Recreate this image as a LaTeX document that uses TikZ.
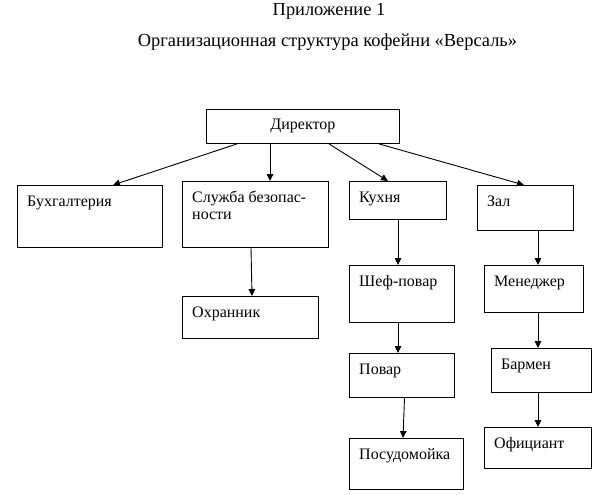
\documentclass[tikz,border=0pt]{standalone}
\usepackage{fontspec}
\setmainfont{Liberation Serif}
\usetikzlibrary{arrows.meta}
\begin{document}
\begin{tikzpicture}[x=1pt,y=-1pt,
  unit/.style={draw, line width=0.9pt, inner sep=0pt, anchor=north west,
    font=\fontsize{16}{17}\selectfont},
  caption/.style={anchor=base west, inner sep=0pt, xshift=10pt, yshift=-21pt,
    font=\fontsize{16}{17}\selectfont},
  link/.style={line width=0.9pt, -{Triangle[length=7pt,width=6.5pt]}}]

  \useasboundingbox (0,0) rectangle (597,495);

  \node[anchor=base, font=\fontsize{18.4}{21}\selectfont] (app) at (329,16) {Приложение 1};
  \node[anchor=base, font=\fontsize{18.4}{21}\selectfont] (title) at (327.5,46.5)
  {Организационная структура кофейни «Версаль»};

  \node[unit, minimum width=193pt, minimum height=34pt] (dir) at (206,109) {Директор};

  \node[unit, minimum width=145pt, minimum height=62pt,
    label={[caption]north west:Бухгалтерия}] (buh) at (17,185) {};
  \node[unit, minimum width=146pt, minimum height=66pt,
    label={[caption]north west:{\parbox[t]{130pt}{Служба безопас-\\ности}}}] (sec) at (182,181) {};
  \node[unit, minimum width=97pt, minimum height=38pt,
    label={[caption]north west:Кухня}] (kit) at (349,181) {};
  \node[unit, minimum width=96pt, minimum height=45pt,
    label={[caption]north west:Зал}] (hall) at (477,185) {};

  \node[unit, minimum width=136pt, minimum height=42pt,
    label={[caption]north west:Охранник}] (guard) at (182,296) {};

  \node[unit, minimum width=105pt, minimum height=57pt,
    label={[caption]north west:Шеф-повар}] (chef) at (349,265) {};
  \node[unit, minimum width=105pt, minimum height=44pt,
    label={[caption]north west:Повар}] (cook) at (349,353) {};
  \node[unit, minimum width=114pt, minimum height=51pt,
    label={[caption]north west:Посудомойка}] (wash) at (349,438) {};

  \node[unit, minimum width=99pt, minimum height=47pt,
    label={[caption]north west:Менеджер}] (mgr) at (484,265) {};
  \node[unit, minimum width=100pt, minimum height=44pt,
    label={[caption]north west:Бармен}] (bar) at (491,348) {};
  \node[unit, minimum width=107pt, minimum height=41pt,
    label={[caption]north west:Официант}] (wait) at (484,427) {};

  \draw[link] ([xshift=31pt]dir.south west) -- ([xshift=96pt]buh.north west); %% dir -> buh
  \draw[link] ([xshift=64pt]dir.south west) -- ([xshift=88pt]sec.north west); %% dir -> sec
  \draw[link] ([xshift=123pt]dir.south west) -- ([xshift=39pt]kit.north west); %% dir -> kit
  \draw[link] ([xshift=173pt]dir.south west) -- ([xshift=47pt]hall.north west); %% dir -> hall

  \draw[link] ([xshift=69pt]sec.south west) -- ([xshift=70pt]guard.north west);

  \draw[link] ([xshift=49pt]kit.south west) -- ([xshift=49pt]chef.north west);
  \draw[link] ([xshift=49pt]chef.south west) -- ([xshift=49pt]cook.north west);
  \draw[link] ([xshift=55.5pt]cook.south west) -- ([xshift=54pt]wash.north west);

  \draw[link] ([xshift=61pt]hall.south west) -- ([xshift=54pt]mgr.north west);
  \draw[link] ([xshift=54pt]mgr.south west) -- ([xshift=47pt]bar.north west);
  \draw[link] ([xshift=47pt]bar.south west) -- ([xshift=54pt]wait.north west);

\end{tikzpicture}
\end{document}
